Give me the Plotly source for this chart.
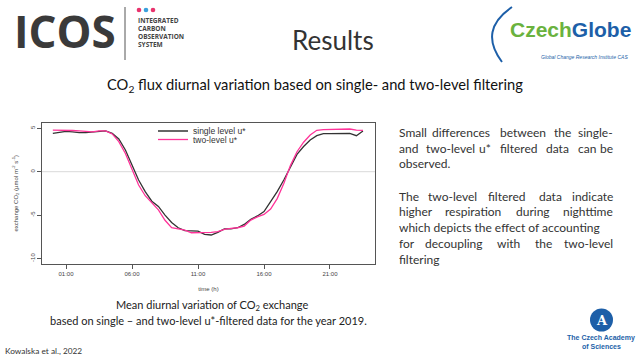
import plotly.graph_objects as go

hours = [i * 0.5 for i in range(48)]
single_level = [4.42, 4.5, 4.65, 4.6, 4.5, 4.5, 4.58, 4.62, 4.7, 4.42, 3.77, 2.5,
                0.77, -0.96, -2.3, -3.4, -4.0, -5.0, -5.85, -6.46, -6.8, -6.8, -6.85, -7.23,
                -7.3, -7.0, -6.6, -6.58, -6.46, -6.08, -5.5, -5.1, -4.6, -3.46, -2.3, -0.96,
                0.58, 2.0, 2.9, 3.65, 4.15, 4.38, 4.38, 4.38, 4.42, 4.42, 4.15, 4.7]
two_level = [4.8, 4.8, 4.8, 4.75, 4.7, 4.65, 4.6, 4.7, 4.7, 4.35, 3.46, 2.1,
             0.2, -1.54, -2.77, -3.65, -4.4, -5.6, -6.46, -6.6, -6.73, -7.04, -7.04, -7.0,
             -7.0, -6.92, -6.65, -6.54, -6.46, -6.27, -5.58, -5.2, -4.92, -4.3, -3.1, -1.35,
             0.7, 2.3, 3.4, 4.23, 4.77, 4.85, 4.85, 4.85, 4.88, 4.92, 4.8, 4.77]
x_tick_vals = [1, 6, 11, 16, 21]
x_tick_text = ["01:00", "06:00", "11:00", "16:00", "21:00"]
y_tick_vals = [5, 0, -5, -10]
y_tick_text = ["5", "0", "-5", "-10"]
series_names = ["single level u*", "two-level u*"]

W, H = 638, 359


def px(x):
    return x / W


def py(y):
    return 1 - y / H


fig = go.Figure()
fig.add_trace(go.Scatter(x=hours, y=single_level, mode="lines", name=series_names[0],
                         line=dict(color="#333333", width=1.3), legend="legend"))
fig.add_trace(go.Scatter(x=hours, y=two_level, mode="lines", name=series_names[1],
                         line=dict(color="#ff3399", width=1.3), legend="legend2"))

tick_font = dict(size=6, color="#444444", family="Liberation Sans")
axis_common = dict(showline=True, mirror=True, linecolor="#555555", linewidth=1,
                   showgrid=False, zeroline=False, ticks="outside", ticklen=4,
                   tickcolor="#555555", tickfont=tick_font)
leg_common = dict(xanchor="left", yanchor="middle", bgcolor="rgba(0,0,0,0)",
                  font=dict(size=8.5, color="#333333", family="Liberation Sans"),
                  itemwidth=30, borderwidth=0)
fig.update_layout(
    width=W, height=H,
    paper_bgcolor="white", plot_bgcolor="white",
    margin=dict(l=0, r=0, t=0, b=0),
    showlegend=True,
    legend=dict(x=px(153), y=py(131), **leg_common),
    legend2=dict(x=px(153), y=py(139.5), **leg_common),
    xaxis=dict(domain=[px(42), px(375)], range=[-0.82, 24.41],
               tickvals=x_tick_vals, ticktext=x_tick_text,
               title=dict(text="time (h)", font=tick_font, standoff=10),
               **axis_common),
    yaxis=dict(domain=[py(264), py(122.5)], range=[-10.64, 5.67],
               tickvals=y_tick_vals, ticktext=y_tick_text, tickangle=-90,
               title=dict(text="exchange CO<sub>2</sub> (µmol m<sup>-2</sup> s<sup>-1</sup>)",
                          font=tick_font, standoff=10),
               **axis_common),
    font=dict(family="Liberation Sans"),
)

# zero reference line
fig.add_hline(y=0, line=dict(color="#d9d9d9", width=1), layer="below")

annots = []
shapes = []


def text(x, y, t, size, color, family, anchor="left"):
    annots.append(dict(x=px(x), y=py(y), text=t, showarrow=False, xref="paper", yref="paper",
                       xanchor=anchor, yanchor="middle",
                       font=dict(size=size, color=color, family=family)))


# ICOS logo
text(12, 31, "<b>ICOS</b>", 44, "#3a3a3a", "Open Sans")
shapes.append(dict(type="line", xref="paper", yref="paper", x0=px(125), x1=px(125),
                   y0=py(60), y1=py(7), line=dict(color="#555555", width=1)))
for cx, col in [(139, "#e8336d"), (146, "#3aa0dc"), (153, "#e8336d")]:
    shapes.append(dict(type="circle", xref="paper", yref="paper",
                       x0=px(cx - 2.3), x1=px(cx + 2.3),
                       y0=py(12.3), y1=py(7.7), fillcolor=col, line=dict(width=0)))
for i, t in enumerate(["INTEGRATED", "CARBON", "OBSERVATION", "SYSTEM"]):
    text(136, 20 + i * 8.3, "<b>" + t + "</b>", 6.5, "#444444", "Open Sans")

# Title
text(333, 40, "Results", 26, "#333333", "Lato", "center")

# CzechGlobe logo
shapes.append(dict(type="path", xref="paper", yref="paper",
                   path="M {:.4f},{:.4f} Q {:.4f},{:.4f} {:.4f},{:.4f}".format(
                       px(512), py(7), px(478), py(30), px(502), py(62)),
                   line=dict(color="#1d5fa8", width=2)))
text(508, 30, "<b><span style='color:#6ab23e'>Czech</span><span style='color:#1d5fa8'>Globe</span></b>",
     21, "#1d5fa8", "Liberation Sans")
text(630, 57, "<i>Global Change Research Institute CAS</i>", 5, "#1d5fa8", "Liberation Sans", "right")

# Subtitle
text(315, 85, "CO<sub>2</sub> flux diurnal variation based on single- and two-level filtering",
     14.7, "#111111", "Lato", "center")

# Right-hand text (justified lines: words placed at their reference positions)
tc = "#333333"
tf = "Lato"
justified = [
    (132.5, [("Small", 397, "left"), ("differences", 461, "center"), ("between", 523, "center"),
             ("the", 562, "center"), ("single-", 615, "right")]),
    (148, [("and", 397, "left"), ("two-level", 450, "center"), ("u*", 485, "center"),
           ("filtered", 519, "center"), ("data", 557, "center"), ("can", 587, "center"),
           ("be", 615, "right")]),
    (163.5, [("observed.", 397, "left")]),
    (196, [("The", 397, "left"), ("two-level", 452, "center"), ("filtered", 507, "center"),
           ("data", 550, "center"), ("indicate", 615, "right")]),
    (211.5, [("higher", 397, "left"), ("respiration", 473, "center"), ("during", 533, "center"),
             ("nighttime", 615, "right")]),
    (227, [("which depicts the effect of accounting", 397, "left")]),
    (243.5, [("for", 397, "left"), ("decoupling", 454, "center"), ("with", 508, "center"),
             ("the", 543, "center"), ("two-level", 615, "right")]),
    (259, [("filtering", 397, "left")]),
]
for yy, words in justified:
    for w, xx, anc in words:
        text(xx, yy, w, 12, tc, tf, anc)

# Caption
text(211.5, 305, "Mean diurnal variation of CO<sub>2</sub> exchange", 11, "#222222", "Lato", "center")
text(208.5, 320.5, "based on single – and two-level u*-filtered data for the year 2019.",
     11, "#222222", "Lato", "center")
text(3, 351, "Kowalska et al., 2022", 8.3, "#333333", "Lato")

# Czech Academy logo
shapes.append(dict(type="circle", xref="paper", yref="paper",
                   x0=px(590), x1=px(613), y0=py(331.5), y1=py(308.5),
                   fillcolor="#1d5fa8", line=dict(width=0)))
text(601.5, 320, "<b>A</b>", 13, "white", "DejaVu Serif", "center")
text(601, 337.5, "<b>The Czech Academy</b>", 7, "#1d5fa8", "Liberation Sans", "center")
text(601, 346.5, "<b>of Sciences</b>", 7, "#1d5fa8", "Liberation Sans", "center")

fig.update_layout(annotations=annots, shapes=list(fig.layout.shapes) + shapes)

fig.write_html("out.html", config={"displayModeBar": False},
               post_script="document.body.style.margin='0';")
